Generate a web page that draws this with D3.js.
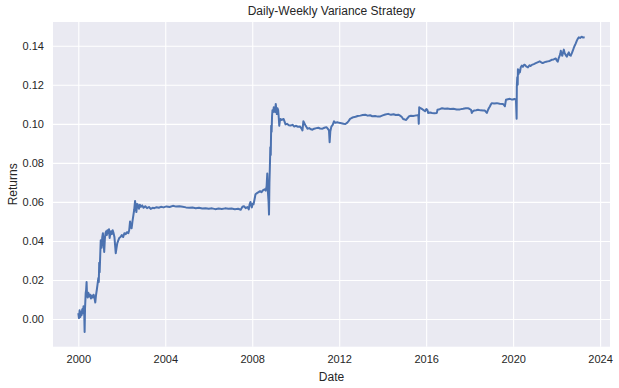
<!DOCTYPE html>
<html lang="en">
<head>
    <meta charset="UTF-8">
    <title>Daily-Weekly Variance Strategy</title>
    <script src="https://d3js.org/d3.v7.min.js"></script>
    <style>
        body {
            margin: 0;
            background: #ffffff;
        }
        svg {
            display: block;
            font-family: "Liberation Sans", Arial, sans-serif;
        }
        .tick text {
            font-size: 11px;
            fill: #262626;
        }
        .grid line {
            stroke: #ffffff;
            stroke-width: 1.1;
        }
        .title, .axis-label {
            font-size: 12px;
            fill: #262626;
            text-anchor: middle;
        }
    </style>
</head>
<body>
    <svg></svg>

    <script>
        // Datos (fecha en años decimales, retorno acumulado)
        const years = [
            2000.00, 2000.03, 2000.06, 2000.09, 2000.12, 2000.15, 2000.18, 2000.21, 2000.24, 2000.27,
            2000.29, 2000.31, 2000.34, 2000.36, 2000.38, 2000.40, 2000.43, 2000.46, 2000.50, 2000.54,
            2000.58, 2000.62, 2000.66, 2000.70, 2000.74, 2000.78, 2000.81, 2000.85, 2000.88, 2000.92,
            2000.94, 2000.96, 2000.98, 2001.01, 2001.03, 2001.05, 2001.07, 2001.10, 2001.13, 2001.16,
            2001.19, 2001.22, 2001.25, 2001.28, 2001.31, 2001.34, 2001.37, 2001.41, 2001.44, 2001.47,
            2001.50, 2001.54, 2001.58, 2001.62, 2001.66, 2001.69, 2001.72, 2001.75, 2001.79, 2001.83,
            2001.88, 2001.94, 2002.00, 2002.06, 2002.12, 2002.18, 2002.24, 2002.30, 2002.34, 2002.38,
            2002.41, 2002.45, 2002.49, 2002.53, 2002.57, 2002.61, 2002.64, 2002.67, 2002.71, 2002.75,
            2002.79, 2002.83, 2002.88, 2002.94, 2003.00, 2003.08, 2003.16, 2003.25, 2003.33, 2003.42,
            2003.50, 2003.60, 2003.70, 2003.80, 2003.92, 2004.05, 2004.20, 2004.35, 2004.50, 2004.65,
            2004.80, 2004.95, 2005.10, 2005.25, 2005.40, 2005.55, 2005.70, 2005.85, 2006.00, 2006.15,
            2006.30, 2006.45, 2006.60, 2006.75, 2006.90, 2007.05, 2007.20, 2007.35, 2007.47, 2007.55,
            2007.62, 2007.70, 2007.78, 2007.84, 2007.88, 2007.92, 2007.95, 2007.98, 2008.02, 2008.06,
            2008.10, 2008.15, 2008.22, 2008.29, 2008.36, 2008.43, 2008.50, 2008.57, 2008.62, 2008.66,
            2008.69, 2008.72, 2008.75, 2008.77, 2008.79, 2008.81, 2008.83, 2008.85, 2008.87, 2008.89,
            2008.91, 2008.93, 2008.96, 2008.99, 2009.02, 2009.05, 2009.08, 2009.11, 2009.13, 2009.16,
            2009.19, 2009.22, 2009.24, 2009.27, 2009.30, 2009.36, 2009.44, 2009.49, 2009.53, 2009.60,
            2009.68, 2009.76, 2009.85, 2009.93, 2010.00, 2010.10, 2010.20, 2010.27, 2010.31, 2010.35,
            2010.39, 2010.45, 2010.50, 2010.54, 2010.62, 2010.70, 2010.77, 2010.85, 2010.95, 2011.04,
            2011.12, 2011.23, 2011.32, 2011.41, 2011.47, 2011.53, 2011.56, 2011.59, 2011.64, 2011.70,
            2011.76, 2011.82, 2011.91, 2012.00, 2012.10, 2012.20, 2012.28, 2012.36, 2012.42, 2012.50,
            2012.57, 2012.65, 2012.75, 2012.85, 2012.97, 2013.08, 2013.20, 2013.30, 2013.42, 2013.52,
            2013.65, 2013.78, 2013.89, 2014.00, 2014.12, 2014.25, 2014.38, 2014.50, 2014.60, 2014.72,
            2014.80, 2014.88, 2014.94, 2015.02, 2015.08, 2015.15, 2015.22, 2015.30, 2015.40, 2015.49,
            2015.58, 2015.64, 2015.66, 2015.68, 2015.74, 2015.81, 2015.88, 2015.95, 2016.01, 2016.06,
            2016.09, 2016.18, 2016.27, 2016.38, 2016.49, 2016.52, 2016.62, 2016.73, 2016.85, 2016.98,
            2017.10, 2017.25, 2017.40, 2017.55, 2017.70, 2017.82, 2017.92, 2018.00, 2018.06, 2018.10,
            2018.14, 2018.20, 2018.30, 2018.38, 2018.50, 2018.62, 2018.70, 2018.76, 2018.79, 2018.83,
            2018.88, 2018.93, 2018.98, 2019.02, 2019.12, 2019.25, 2019.38, 2019.53, 2019.60, 2019.62,
            2019.67, 2019.76, 2019.85, 2019.92, 2019.99, 2020.06, 2020.13, 2020.15, 2020.16, 2020.17,
            2020.19, 2020.21, 2020.22, 2020.25, 2020.28, 2020.31, 2020.35, 2020.40, 2020.45, 2020.50,
            2020.54, 2020.60, 2020.68, 2020.75, 2020.80, 2020.86, 2020.95, 2021.04, 2021.12, 2021.22,
            2021.30, 2021.36, 2021.45, 2021.52, 2021.59, 2021.68, 2021.77, 2021.86, 2021.96, 2022.00,
            2022.05, 2022.09, 2022.14, 2022.17, 2022.19, 2022.23, 2022.26, 2022.30, 2022.33, 2022.37,
            2022.42, 2022.47, 2022.52, 2022.56, 2022.60, 2022.65, 2022.70, 2022.74, 2022.78, 2022.83,
            2022.88, 2022.93, 2022.97, 2023.02, 2023.08, 2023.15, 2023.22, 2023.29
        ];

        const returns = [
            0.0030, 0.0005, 0.0045, 0.0010, 0.0035, 0.0020, 0.0050, 0.0030, 0.0065, 0.0040,
            -0.0066, 0.0060, 0.0134, 0.0150, 0.0190, 0.0125, 0.0110, 0.0135, 0.0115, 0.0125,
            0.0105, 0.0120, 0.0110, 0.0125, 0.0110, 0.0085, 0.0120, 0.0150, 0.0175, 0.0210,
            0.0190, 0.0288, 0.0240, 0.0340, 0.0404, 0.0380, 0.0365, 0.0420, 0.0440, 0.0395,
            0.0344, 0.0410, 0.0440, 0.0450, 0.0430, 0.0455, 0.0440, 0.0460, 0.0415, 0.0440,
            0.0450, 0.0435, 0.0455, 0.0440, 0.0420, 0.0380, 0.0337, 0.0360, 0.0388, 0.0400,
            0.0415, 0.0420, 0.0430, 0.0420, 0.0440, 0.0435, 0.0445, 0.0440, 0.0455, 0.0500,
            0.0470, 0.0465, 0.0500, 0.0530, 0.0560, 0.0605, 0.0570, 0.0548, 0.0590, 0.0583,
            0.0565, 0.0585, 0.0575, 0.0582, 0.0570, 0.0578, 0.0568, 0.0574, 0.0564, 0.0570,
            0.0568, 0.0573, 0.0570, 0.0575, 0.0572, 0.0577, 0.0574, 0.0580, 0.0576, 0.0578,
            0.0575, 0.0572, 0.0570, 0.0571, 0.0568, 0.0570, 0.0566, 0.0568, 0.0565, 0.0567,
            0.0563, 0.0566, 0.0564, 0.0567, 0.0565, 0.0566, 0.0563, 0.0565, 0.0560, 0.0575,
            0.0578, 0.0568, 0.0574, 0.0562, 0.0588, 0.0600, 0.0585, 0.0572, 0.0590, 0.0588,
            0.0610, 0.0639, 0.0645, 0.0650, 0.0655, 0.0650, 0.0660, 0.0665, 0.0658, 0.0680,
            0.0745, 0.0650, 0.0600, 0.0535, 0.0700, 0.0780, 0.0880, 0.0840, 0.0990, 0.0960,
            0.1040, 0.1070, 0.1060, 0.1085, 0.1077, 0.1060, 0.1102, 0.1070, 0.1050, 0.1080,
            0.1070, 0.1030, 0.0990, 0.1015, 0.1025, 0.1020, 0.1025, 0.1010, 0.0997, 0.1000,
            0.0993, 0.0991, 0.0995, 0.0986, 0.0990, 0.0985, 0.0986, 0.0975, 0.0966, 0.1013,
            0.1005, 0.0991, 0.0982, 0.0975, 0.0978, 0.0972, 0.0970, 0.0975, 0.0978, 0.0980,
            0.0976, 0.0975, 0.0980, 0.0983, 0.0975, 0.0966, 0.0906, 0.0960, 0.0986, 0.0995,
            0.1013, 0.1005, 0.1008, 0.1005, 0.1003, 0.1000, 0.0999, 0.1005, 0.1013, 0.1025,
            0.1030, 0.1034, 0.1036, 0.1040, 0.1042, 0.1045, 0.1047, 0.1042, 0.1044, 0.1039,
            0.1040, 0.1037, 0.1038, 0.1043, 0.1048, 0.1051, 0.1046, 0.1049, 0.1045, 0.1047,
            0.1042, 0.1035, 0.1025, 0.1022, 0.1020, 0.1030, 0.1039, 0.1041, 0.1040, 0.1042,
            0.1044, 0.1046, 0.1000, 0.1085, 0.1080, 0.1076, 0.1070, 0.1065, 0.1076, 0.1070,
            0.1056, 0.1058, 0.1056, 0.1054, 0.1056, 0.1072, 0.1075, 0.1080, 0.1077, 0.1078,
            0.1076, 0.1077, 0.1073, 0.1074, 0.1077, 0.1080, 0.1080, 0.1076, 0.1072, 0.1056,
            0.1064, 0.1068, 0.1070, 0.1072, 0.1069, 0.1068, 0.1068, 0.1060, 0.1056, 0.1068,
            0.1080, 0.1089, 0.1100, 0.1106, 0.1104, 0.1106, 0.1103, 0.1102, 0.1094, 0.1090,
            0.1123, 0.1126, 0.1128, 0.1125, 0.1125, 0.1127, 0.1125, 0.1060, 0.1026, 0.1196,
            0.1238, 0.1200, 0.1280, 0.1255, 0.1275, 0.1264, 0.1290, 0.1298, 0.1292, 0.1302,
            0.1302, 0.1294, 0.1289, 0.1300, 0.1296, 0.1302, 0.1306, 0.1311, 0.1315, 0.1320,
            0.1314, 0.1311, 0.1316, 0.1318, 0.1320, 0.1322, 0.1328, 0.1330, 0.1335, 0.1325,
            0.1318, 0.1335, 0.1349, 0.1360, 0.1374, 0.1355, 0.1349, 0.1368, 0.1380, 0.1362,
            0.1352, 0.1344, 0.1358, 0.1366, 0.1352, 0.1349, 0.1362, 0.1374, 0.1386, 0.1400,
            0.1412, 0.1426, 0.1435, 0.1443, 0.1440, 0.1446, 0.1442, 0.1443
        ];

        const yTicks = [0.00, 0.02, 0.04, 0.06, 0.08, 0.10, 0.12, 0.14];

        // Año decimal -> Date
        function toDate(y) {
            const yr = Math.floor(y);
            const start = new Date(yr, 0, 1);
            const end = new Date(yr + 1, 0, 1);
            return new Date(start.getTime() + (y - yr) * (end - start));
        }

        const data = years.map((y, i) => ({ date: toDate(y), value: returns[i] }));

        const width = 619;
        const height = 388;
        const margin = { top: 22, right: 9, bottom: 41.3, left: 53 };
        const plotW = width - margin.left - margin.right;
        const plotH = height - margin.top - margin.bottom;

        const svg = d3.select("svg")
            .attr("width", width)
            .attr("height", height);

        // Márgenes de 5% como matplotlib
        const xExt = d3.extent(years);
        const xPad = (xExt[1] - xExt[0]) * 0.05;
        const yExt = d3.extent(returns);
        const yPad = (yExt[1] - yExt[0]) * 0.05;

        const x = d3.scaleTime()
            .domain([toDate(xExt[0] - xPad), toDate(xExt[1] + xPad)])
            .range([0, plotW]);

        const y = d3.scaleLinear()
            .domain([yExt[0] - yPad, yExt[1] + yPad])
            .range([plotH, 0]);

        const g = svg.append("g")
            .attr("transform", `translate(${margin.left},${margin.top})`);

        g.append("rect")
            .attr("width", plotW)
            .attr("height", plotH)
            .attr("fill", "#EAEAF2");

        // Rejilla
        g.append("g")
            .attr("class", "grid")
            .attr("transform", `translate(0,${plotH})`)
            .call(d3.axisBottom(x).ticks(d3.timeYear.every(4)).tickSize(-plotH).tickFormat(""))
            .call(s => s.select(".domain").remove());

        g.append("g")
            .attr("class", "grid")
            .call(d3.axisLeft(y).tickValues(yTicks).tickSize(-plotW).tickFormat(""))
            .call(s => s.select(".domain").remove());

        // Ejes
        g.append("g")
            .attr("transform", `translate(0,${plotH})`)
            .call(d3.axisBottom(x).ticks(d3.timeYear.every(4)).tickSize(0).tickPadding(9).tickFormat(d3.timeFormat("%Y")))
            .call(s => s.select(".domain").remove());

        g.append("g")
            .call(d3.axisLeft(y).tickValues(yTicks).tickSize(0).tickPadding(9).tickFormat(d3.format(".2f")))
            .call(s => s.select(".domain").remove());

        // Línea
        const line = d3.line()
            .x(d => x(d.date))
            .y(d => y(d.value));

        g.append("path")
            .datum(data)
            .attr("fill", "none")
            .attr("stroke", "#4C72B0")
            .attr("stroke-width", 2)
            .attr("stroke-linejoin", "round")
            .attr("d", line);

        // Títulos
        svg.append("text")
            .attr("class", "title")
            .attr("x", margin.left + plotW / 2)
            .attr("y", 15)
            .text("Daily-Weekly Variance Strategy");

        svg.append("text")
            .attr("class", "axis-label")
            .attr("x", margin.left + plotW / 2)
            .attr("y", 381)
            .text("Date");

        svg.append("text")
            .attr("class", "axis-label")
            .attr("transform", `translate(17,${margin.top + plotH / 2}) rotate(-90)`)
            .text("Returns");
    </script>
</body>
</html>
